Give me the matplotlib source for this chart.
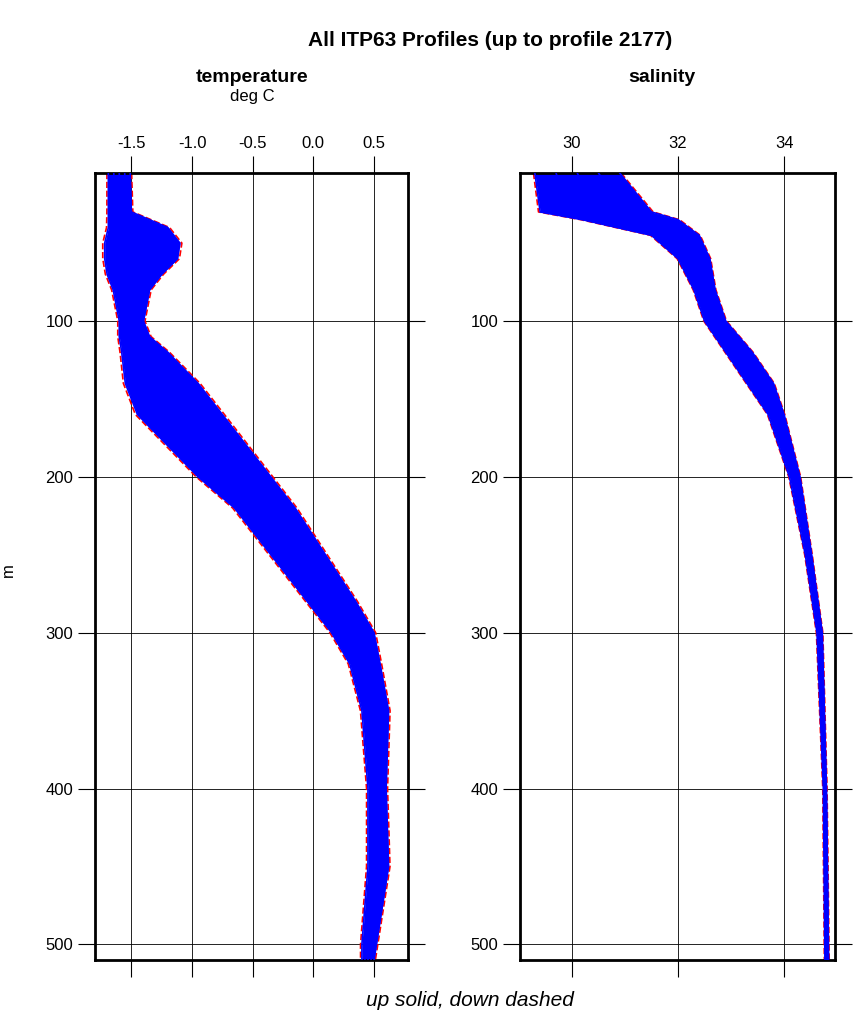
import matplotlib
matplotlib.use("Agg")
import matplotlib.pyplot as plt
import numpy as np
plt.rcParams['font.family'] = ['Liberation Sans', 'DejaVu Sans']

depth_t = [5,30,40,50,60,70,80,100,110,120,140,160,180,200,220,250,280,300,320,350,400,450,500,510]
temp_lo = [-1.69,-1.69,-1.69,-1.72,-1.72,-1.70,-1.65,-1.60,-1.60,-1.58,-1.55,-1.45,-1.20,-0.95,-0.65,-0.35,-0.05,0.15,0.30,0.40,0.45,0.45,0.40,0.40]
temp_hi = [-1.51,-1.50,-1.20,-1.10,-1.12,-1.25,-1.35,-1.40,-1.35,-1.20,-0.95,-0.75,-0.55,-0.35,-0.15,0.10,0.35,0.50,0.55,0.62,0.60,0.62,0.52,0.50]

depth_s = [5,30,35,45,60,80,100,120,140,160,180,200,250,300,400,510]
sal_lo = [29.3,29.4,30.2,31.5,32.0,32.3,32.5,32.9,33.3,33.7,33.9,34.1,34.4,34.62,34.74,34.77]
sal_hi = [30.9,31.5,32.0,32.4,32.6,32.7,32.9,33.4,33.8,34.0,34.15,34.3,34.52,34.72,34.8,34.84]

fig = plt.figure(figsize=(8.66,10.24), dpi=100)
W,H = 866,1024
def ax_at(x0,x1,y0,y1):
    return fig.add_axes([x0/W, 1-y1/H, (x1-x0)/W, (y1-y0)/H])

axT = ax_at(95,408,173,960)
axS = ax_at(520,835,173,960)

def band(ax, d, lo, hi):
    d=np.array(d); lo=np.array(lo); hi=np.array(hi)
    ax.fill_betweenx(d, lo, hi, color='blue', lw=0, zorder=2)
    for f in [0.0,0.25,0.5,0.75,1.0]:
        ax.plot(lo+f*(hi-lo), d, color='blue', lw=1.2, zorder=3)
    ax.plot(lo-0.01*(hi-lo+1), d, color='red', ls='--', lw=1.2, zorder=1)
    ax.plot(hi+0.01*(hi-lo+1), d, color='red', ls='--', lw=1.2, zorder=1)

band(axT, depth_t, temp_lo, temp_hi)
band(axS, depth_s, sal_lo, sal_hi)

for ax, xl, xt in [(axT,(-1.8,0.78),[-1.5,-1.0,-0.5,0.0,0.5]),(axS,(29.02,34.96),[30,32,34])]:
    ax.set_xlim(*xl); ax.set_ylim(510,5)
    ax.set_xticks(xt); ax.set_yticks([100,200,300,400,500])
    ax.grid(True, color='black', lw=0.6)
    ax.set_axisbelow(True)
    ax.tick_params(top=True, labeltop=True, bottom=True, labelbottom=False,
                   right=True, left=True, direction='out', length=12, labelsize=12)
    ax.tick_params(axis='x', pad=4)
    for s in ax.spines.values(): s.set_linewidth(2)

axT.set_xticklabels(['-1.5','-1.0','-0.5','0.0','0.5'])
fig.text(490/W, 1-40/H, 'All ITP63 Profiles (up to profile 2177)', ha='center', va='center', fontsize=15, fontweight='bold')
fig.text(252/W, 1-77/H, 'temperature', ha='center', va='center', fontsize=14, fontweight='bold')
fig.text(252/W, 1-97/H, 'deg C', ha='center', va='center', fontsize=12)
fig.text(662/W, 1-77/H, 'salinity', ha='center', va='center', fontsize=14, fontweight='bold')
fig.text(470/W, 1-1000/H, 'up solid, down dashed', ha='center', va='center', fontsize=15, style='italic')
fig.text(1/W, 1-570/H, 'm', ha='left', va='center', fontsize=12, rotation=90)
fig.savefig('out.png', dpi=100)
